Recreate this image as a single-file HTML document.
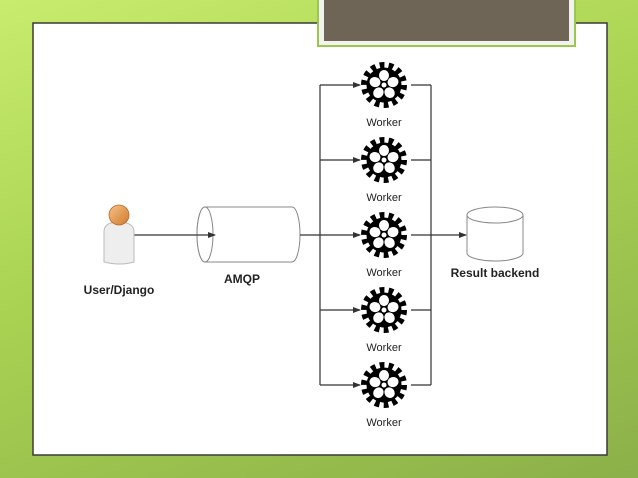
<!DOCTYPE html>
<html><head><style>
body{margin:0;width:638px;height:478px;overflow:hidden;background:linear-gradient(160deg,#c8ec6e 0%,#a9d252 45%,#8cb04a 100%);font-family:"Liberation Sans",sans-serif;}
</style></head><body>
<svg width="638" height="478" style="position:absolute;left:0;top:0" xmlns="http://www.w3.org/2000/svg">
<defs>
<marker id="a" markerWidth="8" markerHeight="8" refX="7" refY="4" orient="auto" markerUnits="userSpaceOnUse"><path d="M0,1 L8,4 L0,7 z" fill="#333"/></marker>
<g id="g">
<circle r="19" fill="none" stroke="#000" stroke-width="8" stroke-dasharray="4.5 4.03"/>
<circle r="17.5" fill="#000"/>
<circle r="2.5" fill="#fff"/>
<g fill="#fff">
<ellipse cx="0" cy="-9.5" rx="5" ry="5.5"/>
<ellipse cx="0" cy="-9.5" rx="5" ry="5.5" transform="rotate(72)"/>
<ellipse cx="0" cy="-9.5" rx="5" ry="5.5" transform="rotate(144)"/>
<ellipse cx="0" cy="-9.5" rx="5" ry="5.5" transform="rotate(216)"/>
<ellipse cx="0" cy="-9.5" rx="5" ry="5.5" transform="rotate(288)"/>
</g>
</g>
<linearGradient id="h" x1="0" y1="0" x2="1" y2="1"><stop offset="0" stop-color="#f6c28a"/><stop offset="1" stop-color="#d07a2a"/></linearGradient>
</defs>
<rect x="33" y="23" width="574" height="432" fill="#fff" stroke="#3a3a3a" stroke-width="1.5"/>
<rect x="318" y="-2" width="257" height="48" fill="#f2f2f0" stroke="#9ac84e" stroke-width="2"/>
<rect x="324" y="-2" width="245" height="43" fill="#6f6556"/>
<g fill="#fff" stroke="#888" stroke-width="1">
<path d="M205,207 L292,207 A8,27.5 0 0 1 292,262 L205,262 A8,27.5 0 0 1 205,207 z"/>
<ellipse cx="205" cy="234.5" rx="8" ry="27.5"/>
<path d="M467,215 L467,253 A28,8 0 0 0 523,253 L523,215"/>
<ellipse cx="495" cy="215" rx="28" ry="8"/>
</g>
<g stroke="#333" stroke-width="1.2" fill="none">
<line x1="320" y1="85" x2="320" y2="385"/>
<line x1="431" y1="85" x2="431" y2="385"/>
<line x1="300" y1="235" x2="320" y2="235"/>
<line x1="320" y1="85" x2="360" y2="85" marker-end="url(#a)"/>
<line x1="320" y1="160" x2="360" y2="160" marker-end="url(#a)"/>
<line x1="320" y1="235" x2="360" y2="235" marker-end="url(#a)"/>
<line x1="320" y1="310" x2="360" y2="310" marker-end="url(#a)"/>
<line x1="320" y1="385" x2="360" y2="385" marker-end="url(#a)"/>
<line x1="411" y1="85" x2="431" y2="85"/>
<line x1="411" y1="160" x2="431" y2="160"/>
<line x1="411" y1="235" x2="466" y2="235" marker-end="url(#a)"/>
<line x1="411" y1="310" x2="431" y2="310"/>
<line x1="411" y1="385" x2="431" y2="385"/>
<line x1="134" y1="235" x2="215" y2="235" marker-end="url(#a)"/>
</g>
<use href="#g" x="384" y="85"/><use href="#g" x="384" y="160"/><use href="#g" x="384" y="235"/><use href="#g" x="384" y="310"/><use href="#g" x="384" y="385"/>
<path d="M104,232 Q104,222 118,222 Q134,222 134,232 L134,262 Q120,266 104,262 z" fill="#eee" stroke="#bbb"/>
<circle cx="119" cy="215" r="10" fill="url(#h)" stroke="#b86a20" stroke-width="0.8"/>
<g font-size="11" fill="#222" text-anchor="middle">
<text x="384" y="126">Worker</text><text x="384" y="201">Worker</text><text x="384" y="276">Worker</text><text x="384" y="351">Worker</text><text x="384" y="426">Worker</text>
</g>
<g font-size="12" font-weight="bold" fill="#222" text-anchor="middle">
<text x="242" y="283">AMQP</text>
<text x="119" y="294">User/Django</text>
<text x="495" y="277">Result backend</text>
</g>
</svg>
</body></html>
